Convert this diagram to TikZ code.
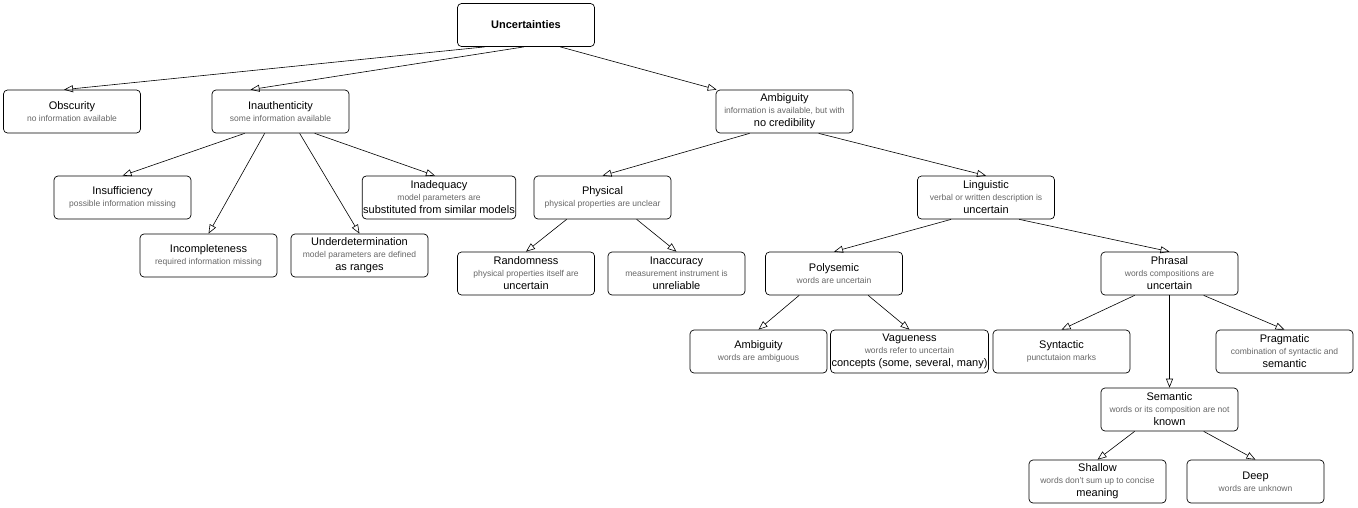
\documentclass[tikz,border=0pt]{standalone}
\usepackage{fontspec}
\setmainfont{Liberation Sans}
\usetikzlibrary{arrows.meta}
\definecolor{sub}{HTML}{666666}
\begin{document}
\begin{tikzpicture}[x=1pt,y=-1pt,
  box/.style={draw,rounded corners=4pt,minimum width=137pt,minimum height=43pt,inner sep=1pt,align=center,line width=0.7pt,font=\fontsize{11}{13}\selectfont},
  arr/.style={-{Triangle[open,length=9pt,width=7pt]},line width=0.6pt}]
\useasboundingbox (0,0) rectangle (1358,507);
\newcommand{\bx}[5]{\node[box] (#1) at (#2,#3) {#4\\[-1pt]\fontsize{8.5}{13}\selectfont\color{sub}#5};}
\node[box,font=\fontsize{11}{13}\selectfont\bfseries] (unc) at (526,25) {Uncertainties};
\bx{obs}{72}{111.5}{Obscurity}{no information available}
\bx{inau}{280.5}{111.5}{Inauthenticity}{some information available}
\bx{amb}{784.5}{111.5}{Ambiguity}{information is available, but with\\no credibility}
\bx{insu}{122.5}{197.5}{Insufficiency}{possible information missing}
\bx{inco}{208.5}{255.5}{Incompleteness}{required information missing}
\bx{unde}{359.5}{255.5}{Underdetermination}{model parameters are defined\\as ranges}
\bx{inad}{439}{197.5}{Inadequacy}{model parameters are\\substituted from similar models}
\bx{phys}{602.5}{197.5}{Physical}{physical properties are unclear}
\bx{ling}{986}{197.5}{Linguistic}{verbal or written description is\\uncertain}
\bx{rand}{526}{273.5}{Randomness}{physical properties itself are\\uncertain}
\bx{inac}{676.5}{273.5}{Inaccuracy}{measurement instrument is\\unreliable}
\bx{poly}{834}{273.5}{Polysemic}{words are uncertain}
\bx{phra}{1169.5}{273.5}{Phrasal}{words compositions are\\uncertain}
\bx{amb2}{758.5}{351.5}{Ambiguity}{words are ambiguous}
\bx{vagu}{909.5}{351.5}{Vagueness}{words refer to uncertain\\concepts (some, several, many)}
\bx{synt}{1061.5}{351.5}{Syntactic}{punctutaion marks}
\bx{prag}{1284.5}{351.5}{Pragmatic}{combination of syntactic and\\semantic}
\bx{sema}{1169.5}{409.5}{Semantic}{words or its composition are not\\known}
\bx{shal}{1097.5}{481.5}{Shallow}{words don't sum up to concise\\meaning}
\bx{deep}{1255.5}{481.5}{Deep}{words are unknown}
\draw[arr] ([xshift=28pt]unc.south west) -- ([xshift=-8pt]obs.north);
\draw[arr] ([xshift=67pt]unc.south west) -- ([xshift=-30pt]inau.north);
\draw[arr] ([xshift=103pt]unc.south west) -- ([xshift=1pt]amb.north west);
\draw[arr] ([xshift=33pt]inau.south west) -- (insu.north);
\draw[arr] ([xshift=53pt]inau.south west) -- (inco.north);
\draw[arr] ([xshift=88pt]inau.south west) -- (unde.north);
\draw[arr] ([xshift=103pt]inau.south west) -- ([xshift=-4pt]inad.north);
\draw[arr] ([xshift=34pt]amb.south west) -- (phys.north);
\draw[arr] ([xshift=103pt]amb.south west) -- (ling.north);
\draw[arr] ([xshift=33pt]phys.south west) -- (rand.north);
\draw[arr] ([xshift=103pt]phys.south west) -- (inac.north);
\draw[arr] ([xshift=34pt]ling.south west) -- (poly.north);
\draw[arr] ([xshift=102pt]ling.south west) -- (phra.north);
\draw[arr] ([xshift=34pt]poly.south west) -- (amb2.north);
\draw[arr] ([xshift=103pt]poly.south west) -- (vagu.north);
\draw[arr] ([xshift=34pt]phra.south west) -- (synt.north);
\draw[arr] (phra.south) -- (sema.north);
\draw[arr] ([xshift=103pt]phra.south west) -- (prag.north);
\draw[arr] ([xshift=34pt]sema.south west) -- (shal.north);
\draw[arr] ([xshift=103pt]sema.south west) -- (deep.north);
\end{tikzpicture}
\end{document}
